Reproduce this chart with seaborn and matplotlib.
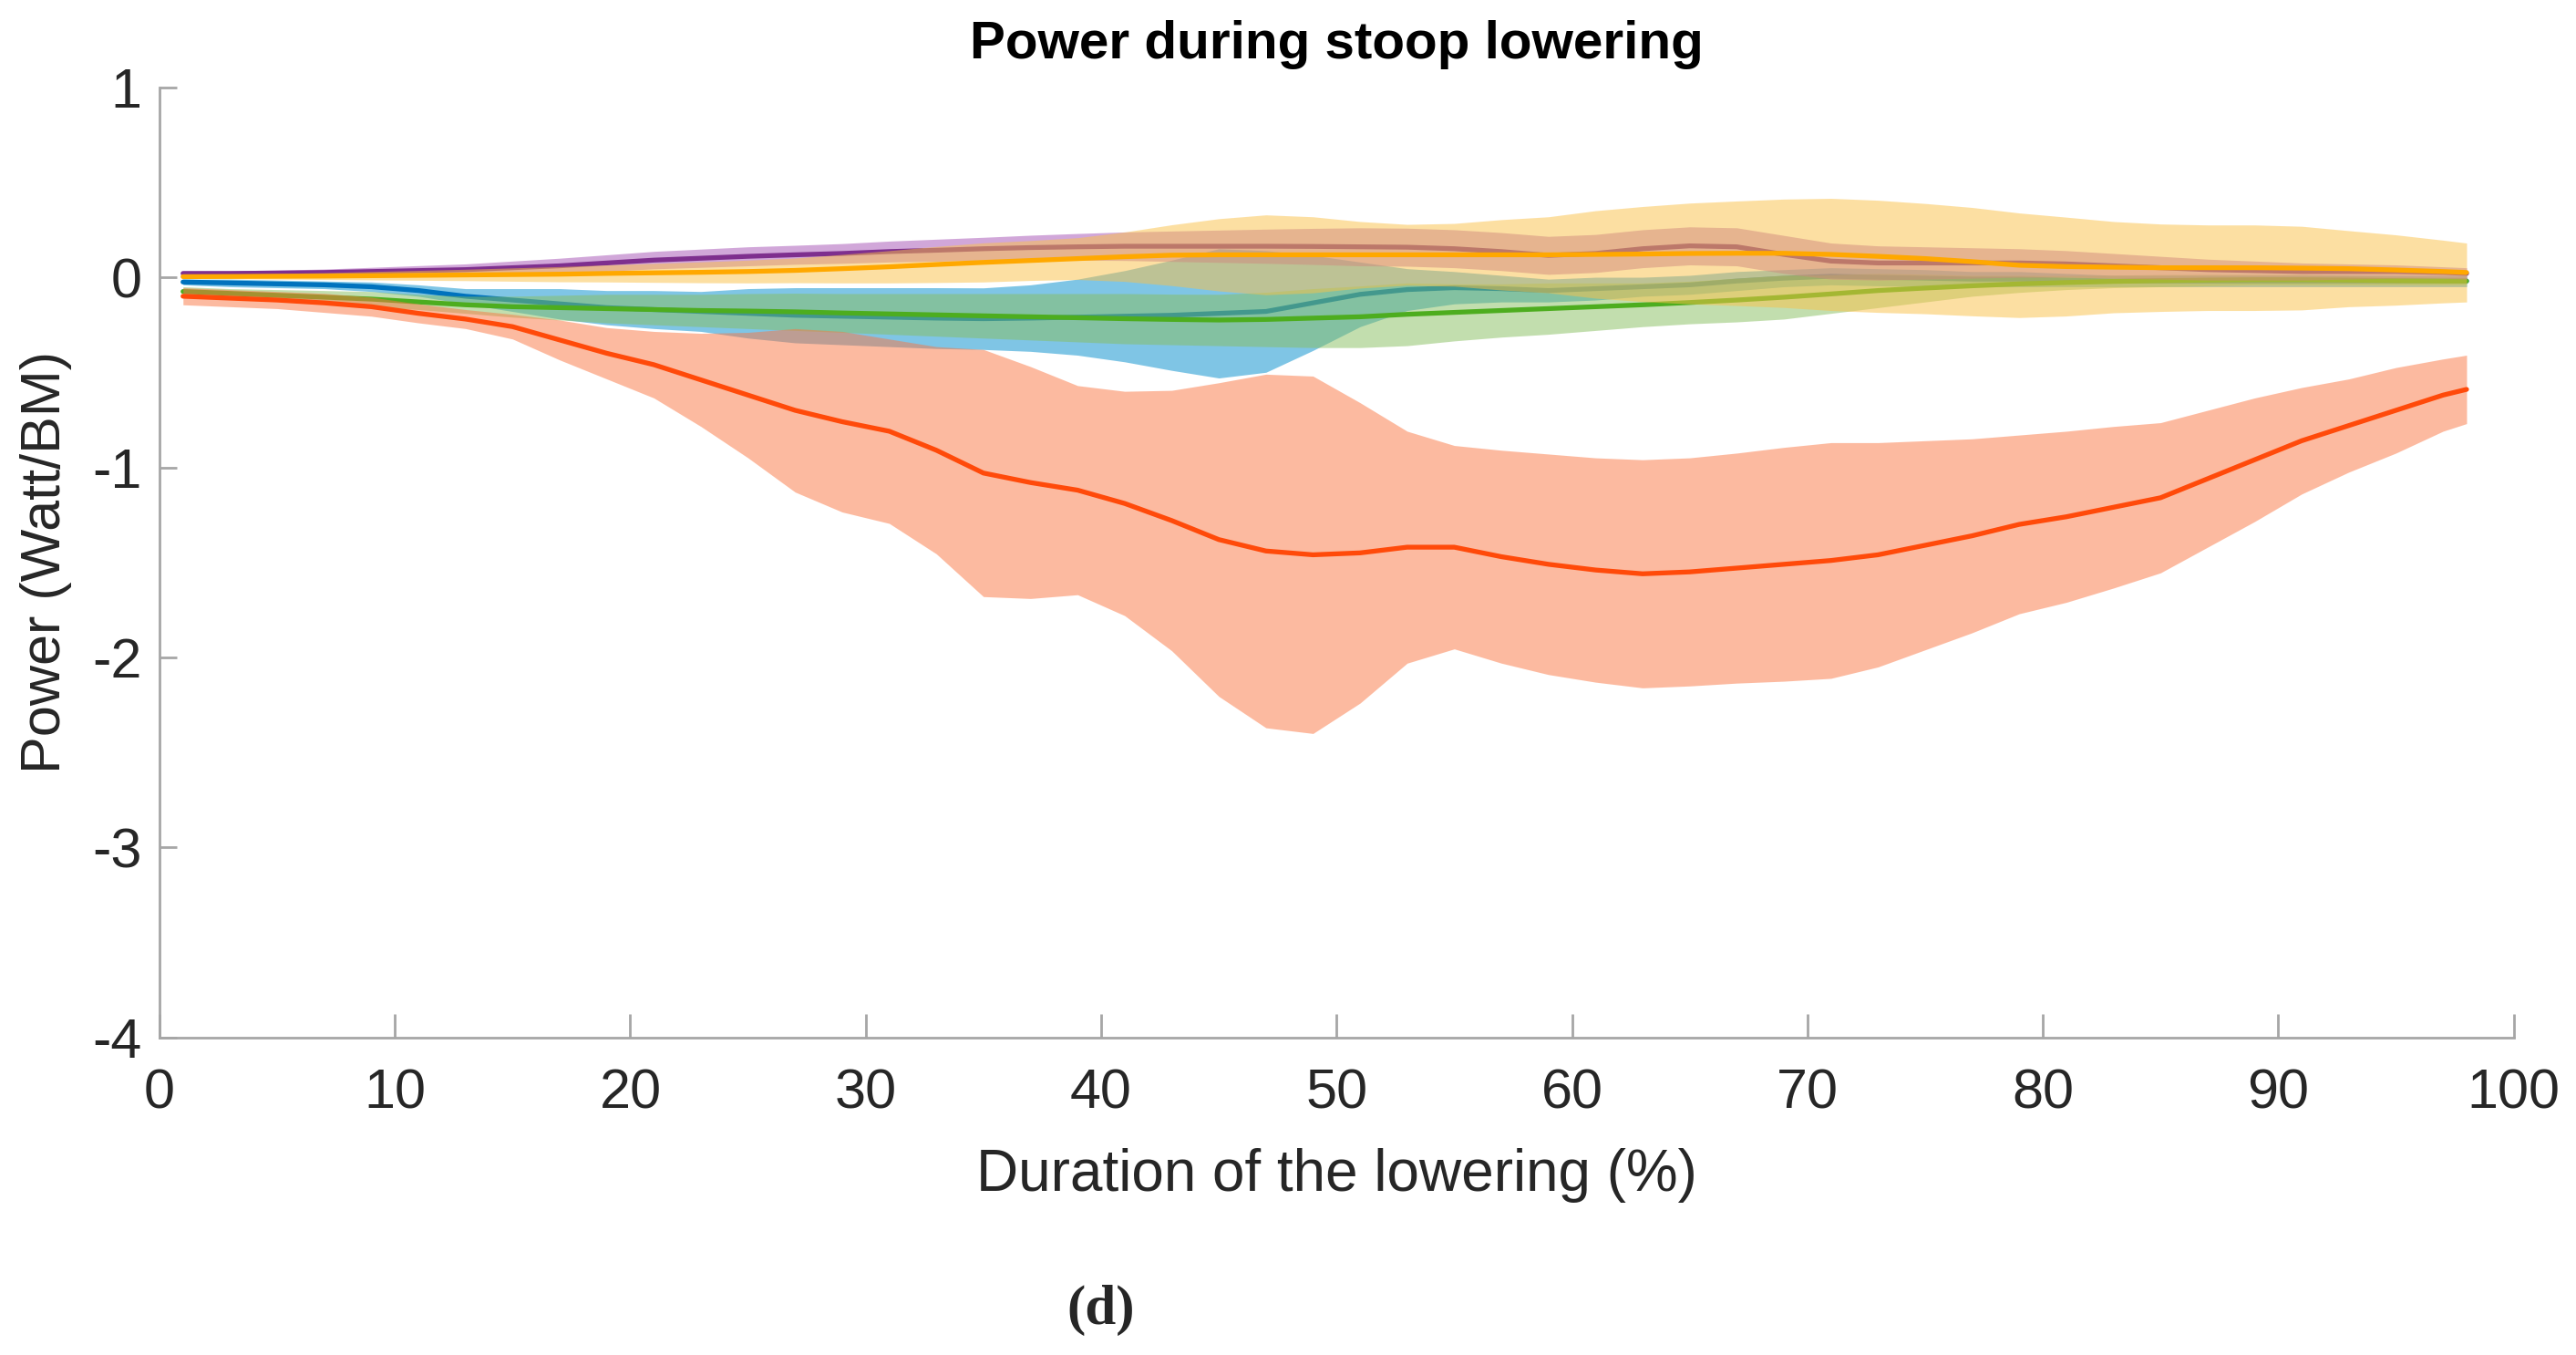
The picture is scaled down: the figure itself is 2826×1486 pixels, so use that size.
import numpy as np
import pandas as pd
import matplotlib
matplotlib.use("Agg")
import matplotlib.pyplot as plt
import seaborn as sns

# percent of the lowering phase
pct = [1, 3, 5, 7, 9, 11, 13, 15, 17, 19, 21, 23, 25, 27, 29, 31, 33, 35, 37, 39,
       41, 43, 45, 47, 49, 51, 53, 55, 57, 59, 61, 63, 65, 67, 69, 71, 73, 75, 77, 79,
       81, 83, 85, 87, 89, 91, 93, 95, 97, 98]

# mean and SD for each joint
blue_mean = [-0.025, -0.03, -0.035, -0.04, -0.05, -0.07, -0.10, -0.12, -0.14, -0.16,
             -0.17, -0.18, -0.19, -0.20, -0.205, -0.21, -0.215, -0.218, -0.215, -0.21,
             -0.205, -0.20, -0.19, -0.18, -0.135, -0.09, -0.065, -0.055, -0.06, -0.07,
             -0.06, -0.05, -0.04, -0.02, -0.005, 0.005, 0.0, -0.005, -0.01, -0.01,
             -0.015, -0.02, -0.02, -0.02, -0.02, -0.02, -0.02, -0.02, -0.02, -0.02]
blue_sd = [0.015, 0.02, 0.02, 0.02, 0.025, 0.03, 0.04, 0.06, 0.08, 0.09,
           0.10, 0.105, 0.13, 0.145, 0.15, 0.155, 0.16, 0.162, 0.175, 0.2,
           0.24, 0.29, 0.34, 0.32, 0.25, 0.17, 0.11, 0.085, 0.07, 0.06,
           0.06, 0.05, 0.05, 0.05, 0.045, 0.045, 0.045, 0.045, 0.04, 0.04,
           0.035, 0.03, 0.03, 0.03, 0.03, 0.03, 0.03, 0.03, 0.03, 0.03]

green_mean = [-0.075, -0.085, -0.095, -0.105, -0.115, -0.13, -0.145, -0.155, -0.16, -0.165,
              -0.17, -0.175, -0.178, -0.182, -0.188, -0.193, -0.198, -0.203, -0.208, -0.213,
              -0.218, -0.222, -0.225, -0.222, -0.215, -0.208, -0.195, -0.185, -0.175, -0.165,
              -0.155, -0.145, -0.133, -0.12, -0.105, -0.088, -0.07, -0.057, -0.045, -0.035,
              -0.028, -0.022, -0.018, -0.015, -0.013, -0.013, -0.015, -0.018, -0.02, -0.02]
green_sd = [0.025, 0.025, 0.03, 0.035, 0.04, 0.04, 0.045, 0.055, 0.065, 0.075,
            0.08, 0.085, 0.092, 0.098, 0.102, 0.107, 0.112, 0.117, 0.122, 0.127,
            0.132, 0.133, 0.135, 0.143, 0.155, 0.162, 0.165, 0.15, 0.14, 0.135,
            0.125, 0.115, 0.112, 0.115, 0.115, 0.102, 0.09, 0.073, 0.055, 0.045,
            0.037, 0.033, 0.032, 0.03, 0.027, 0.027, 0.025, 0.022, 0.02, 0.02]

red_mean = [-0.10, -0.11, -0.12, -0.135, -0.155, -0.19, -0.22, -0.26, -0.33, -0.40,
            -0.46, -0.54, -0.62, -0.70, -0.76, -0.81, -0.91, -1.03, -1.08, -1.12,
            -1.19, -1.28, -1.38, -1.44, -1.46, -1.45, -1.42, -1.42, -1.47, -1.51,
            -1.54, -1.56, -1.55, -1.53, -1.51, -1.49, -1.46, -1.41, -1.36, -1.30,
            -1.26, -1.21, -1.16, -1.06, -0.96, -0.86, -0.78, -0.70, -0.62, -0.59]
red_sd = [0.045, 0.045, 0.045, 0.05, 0.05, 0.05, 0.05, 0.065, 0.105, 0.135,
          0.175, 0.245, 0.33, 0.43, 0.475, 0.485, 0.545, 0.65, 0.61, 0.55,
          0.59, 0.685, 0.825, 0.93, 0.94, 0.79, 0.61, 0.535, 0.56, 0.58,
          0.59, 0.60, 0.60, 0.605, 0.615, 0.62, 0.59, 0.55, 0.51, 0.47,
          0.45, 0.425, 0.395, 0.36, 0.325, 0.28, 0.245, 0.225, 0.19, 0.18]

purple_mean = [0.02, 0.02, 0.022, 0.025, 0.03, 0.035, 0.04, 0.05, 0.06, 0.075,
               0.09, 0.10, 0.11, 0.118, 0.125, 0.135, 0.142, 0.15, 0.156, 0.16,
               0.163, 0.163, 0.163, 0.163, 0.162, 0.16, 0.158, 0.15, 0.135, 0.115,
               0.125, 0.15, 0.165, 0.16, 0.12, 0.085, 0.075, 0.075, 0.075, 0.075,
               0.07, 0.06, 0.05, 0.04, 0.035, 0.03, 0.03, 0.03, 0.025, 0.02]
purple_sd = [0.012, 0.014, 0.016, 0.018, 0.022, 0.026, 0.03, 0.035, 0.04, 0.043,
             0.046, 0.048, 0.05, 0.05, 0.052, 0.055, 0.058, 0.06, 0.065, 0.07,
             0.075, 0.08, 0.085, 0.09, 0.095, 0.1, 0.1, 0.1, 0.1, 0.1,
             0.1, 0.1, 0.1, 0.1, 0.1, 0.095, 0.09, 0.085, 0.08, 0.075,
             0.07, 0.065, 0.06, 0.055, 0.05, 0.045, 0.04, 0.035, 0.03, 0.03]

orange_mean = [0.003, 0.004, 0.005, 0.006, 0.008, 0.01, 0.012, 0.014, 0.016, 0.02,
               0.023, 0.026, 0.03, 0.036, 0.045, 0.055, 0.067, 0.078, 0.088, 0.098,
               0.108, 0.116, 0.118, 0.118, 0.118, 0.118, 0.118, 0.118, 0.118, 0.118,
               0.12, 0.122, 0.125, 0.126, 0.126, 0.12, 0.11, 0.098, 0.082, 0.063,
               0.056, 0.053, 0.05, 0.05, 0.05, 0.048, 0.045, 0.038, 0.03, 0.025]
orange_sd = [0.01, 0.012, 0.015, 0.018, 0.022, 0.026, 0.03, 0.035, 0.04, 0.045,
             0.05, 0.055, 0.06, 0.065, 0.075, 0.085, 0.095, 0.103, 0.105, 0.11,
             0.13, 0.16, 0.19, 0.21, 0.2, 0.175, 0.16, 0.165, 0.185, 0.2,
             0.23, 0.25, 0.265, 0.275, 0.285, 0.295, 0.295, 0.29, 0.285, 0.275,
             0.26, 0.24, 0.23, 0.225, 0.225, 0.22, 0.2, 0.185, 0.165, 0.155]

# draw order matters: later bands tint the earlier lines
series = [
    (blue_mean, blue_sd, "#0072BD", "#018DCD"),
    (green_mean, green_sd, "#4DAD1F", "#87BF5F"),
    (red_mean, red_sd, "#FF4A0A", "#FB7743"),
    (purple_mean, purple_sd, "#7E2F8E", "#A551B5"),
    (orange_mean, orange_sd, "#FFA800", "#FBC147"),
]

sns.set_style("ticks")
plt.rcParams['font.family'] = ['Liberation Sans', 'DejaVu Sans']
plt.rcParams['axes.unicode_minus'] = False

fig = plt.figure(figsize=(14.13, 7.43), dpi=200)
ax = fig.add_axes([0.0619, 0.2342, 0.9139, 0.7015])

for i, (mean, sd, line_col, fill_col) in enumerate(series):
    m = np.array(mean)
    s = np.array(sd)
    ax.fill_between(pct, m - s, m + s, color=fill_col, alpha=0.5, lw=0, zorder=2 * i + 1)
    df = pd.DataFrame({"pct": pct, "power": mean})
    sns.lineplot(data=df, x="pct", y="power", color=line_col, lw=1.9, ax=ax, zorder=2 * i + 2)

ax.set_xlim(0, 100)
ax.set_ylim(-4, 1)
ax.set_xticks(range(0, 101, 10))
ax.set_yticks([-4, -3, -2, -1, 0, 1])

for side in ["top", "right"]:
    ax.spines[side].set_visible(False)
for side in ["left", "bottom"]:
    ax.spines[side].set_color("#A6A6A6")
    ax.spines[side].set_linewidth(1.0)

ax.tick_params(direction="in", bottom=True, left=True, color="#A6A6A6",
               labelcolor="#262626", labelsize=22, width=1.0)
ax.tick_params(axis="x", length=9.5, pad=12)
ax.tick_params(axis="y", length=7, pad=7)

ax.set_xlabel("Duration of the lowering (%)", fontsize=23, color="#262626")
ax.xaxis.set_label_coords(0.5, -0.145)
ax.xaxis.label.set_va("center")
ax.set_ylabel("Power (Watt/BM)", fontsize=22, color="#262626")
ax.yaxis.set_label_coords(-0.048, 0.5)
ax.yaxis.label.set_va("center")

ax.text(0.5, 1.0446, "Power during stoop lowering", transform=ax.transAxes,
        ha="center", va="center", fontsize=21, fontweight="bold", color="black")
fig.text(0.4273, 0.0328, "(d)", family=["Liberation Serif"], fontweight="bold",
         fontsize=22, ha="center", va="center")

fig.savefig("out.png", dpi=200)
